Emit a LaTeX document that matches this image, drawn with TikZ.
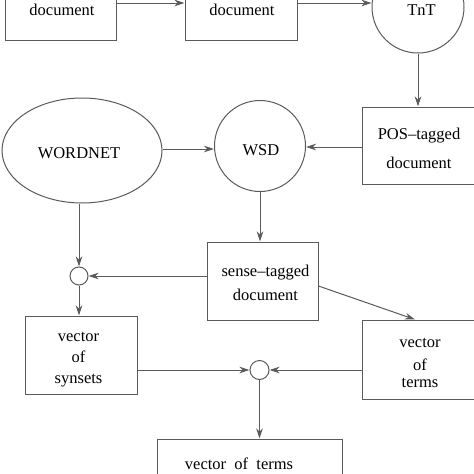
\documentclass[tikz,border=0pt]{standalone}
\usepackage{fontspec}
\setmainfont{Liberation Serif}
\usetikzlibrary{arrows.meta,shapes.geometric}
\definecolor{ln}{RGB}{90,90,90}
\begin{document}
\begin{tikzpicture}[x=1pt,y=-1pt,
  every node/.style={font=\fontsize{16.5}{21}\selectfont},
  box/.style={draw=ln,line width=1pt,rectangle,inner sep=0pt},
  circ/.style={draw=ln,line width=1pt,circle,inner sep=0pt},
  txt/.style={align=center,inner sep=0pt},
  arr/.style={draw=ln,line width=1pt,-{Stealth[length=10pt,width=6.5pt,inset=3pt]}}]
\useasboundingbox (0,0) rectangle (474,474);
\clip (0,0) rectangle (474,474);
% shapes
\node[box,minimum width=111pt,minimum height=77pt] (b1) at (60.5,2) {};
\node[box,minimum width=112pt,minimum height=77pt] (b2) at (241,2) {};
\node[circ,minimum size=92pt] (tnt) at (418,7) {};
\node[box,minimum width=112pt,minimum height=77pt] (pos) at (418,145.5) {};
\node[circ,minimum size=91pt] (wsd) at (260,146) {};
\node[ellipse,draw=ln,line width=1pt,minimum width=160pt,minimum height=105pt,inner sep=0pt] (wn) at (82,150.5) {};
\node[circ,minimum size=18pt] (c1) at (79,276) {};
\node[box,minimum width=111pt,minimum height=78pt] (st) at (262.5,281) {};
\node[box,minimum width=112pt,minimum height=78pt] (vs) at (81,355) {};
\node[box,minimum width=112pt,minimum height=79pt] (vt) at (418,359.5) {};
\node[circ,minimum size=19pt] (c2) at (259.5,370) {};
\node[box,minimum width=185pt,minimum height=80pt] (vot) at (249.5,479) {};
% texts
\node[txt] (b1t) at (62,10) {document};
\node[txt] (b2t) at (242,10) {document};
\node[txt] (tntt) at (421.5,10.5) {TnT};
\node[txt,font=\fontsize{16.5}{28.5}\selectfont] (post) at (419,148.5) {POS--tagged\\document};
\node[txt] (wsdt) at (261,150.5) {WSD};
\node[txt] (wnt) at (79,153.5) {WORDNET};
\node[txt,font=\fontsize{16.5}{24}\selectfont] (stt) at (265.5,283) {sense--tagged\\document};
\node[txt] (vst) at (78.5,360) {vector\\of\\synsets};
\node[txt] (vtt) at (420,362.5) {vector\\[2pt]of\\[-4pt]terms};
\node[txt] (vott) at (239,464) {vector\ \ of\ \ terms};
% connectors
\draw[arr] (b1.east |- 0,3) -- (b2.west |- 0,3);
\draw[arr] (b2.east |- 0,3) -- (tnt.west |- 0,3);
\draw[arr] (tnt.south) -- (pos.north);
\draw[arr] (pos.west |- 0,147) -- (wsd.east |- 0,147);
\draw[arr] (wn.east |- 0,149) -- (wsd.west |- 0,149);
\draw[arr] (wsd.south) -- (st.north -| wsd.south);
\draw[arr] (wn.south -| c1.north) -- (c1.north);
\draw[arr] (st.west |- c1.east) -- (c1.east);
\draw[arr] (c1.south) -- (vs.north -| c1.south);
\draw[arr] ([yshift=-5pt]st.east) -- ([xshift=-3pt]vt.north);
\draw[arr] (vs.east |- c2.west) -- (c2.west);
\draw[arr] (vt.west |- c2.east) -- (c2.east);
\draw[arr] (c2.south) -- (vot.north -| c2.south);
\end{tikzpicture}
\end{document}
